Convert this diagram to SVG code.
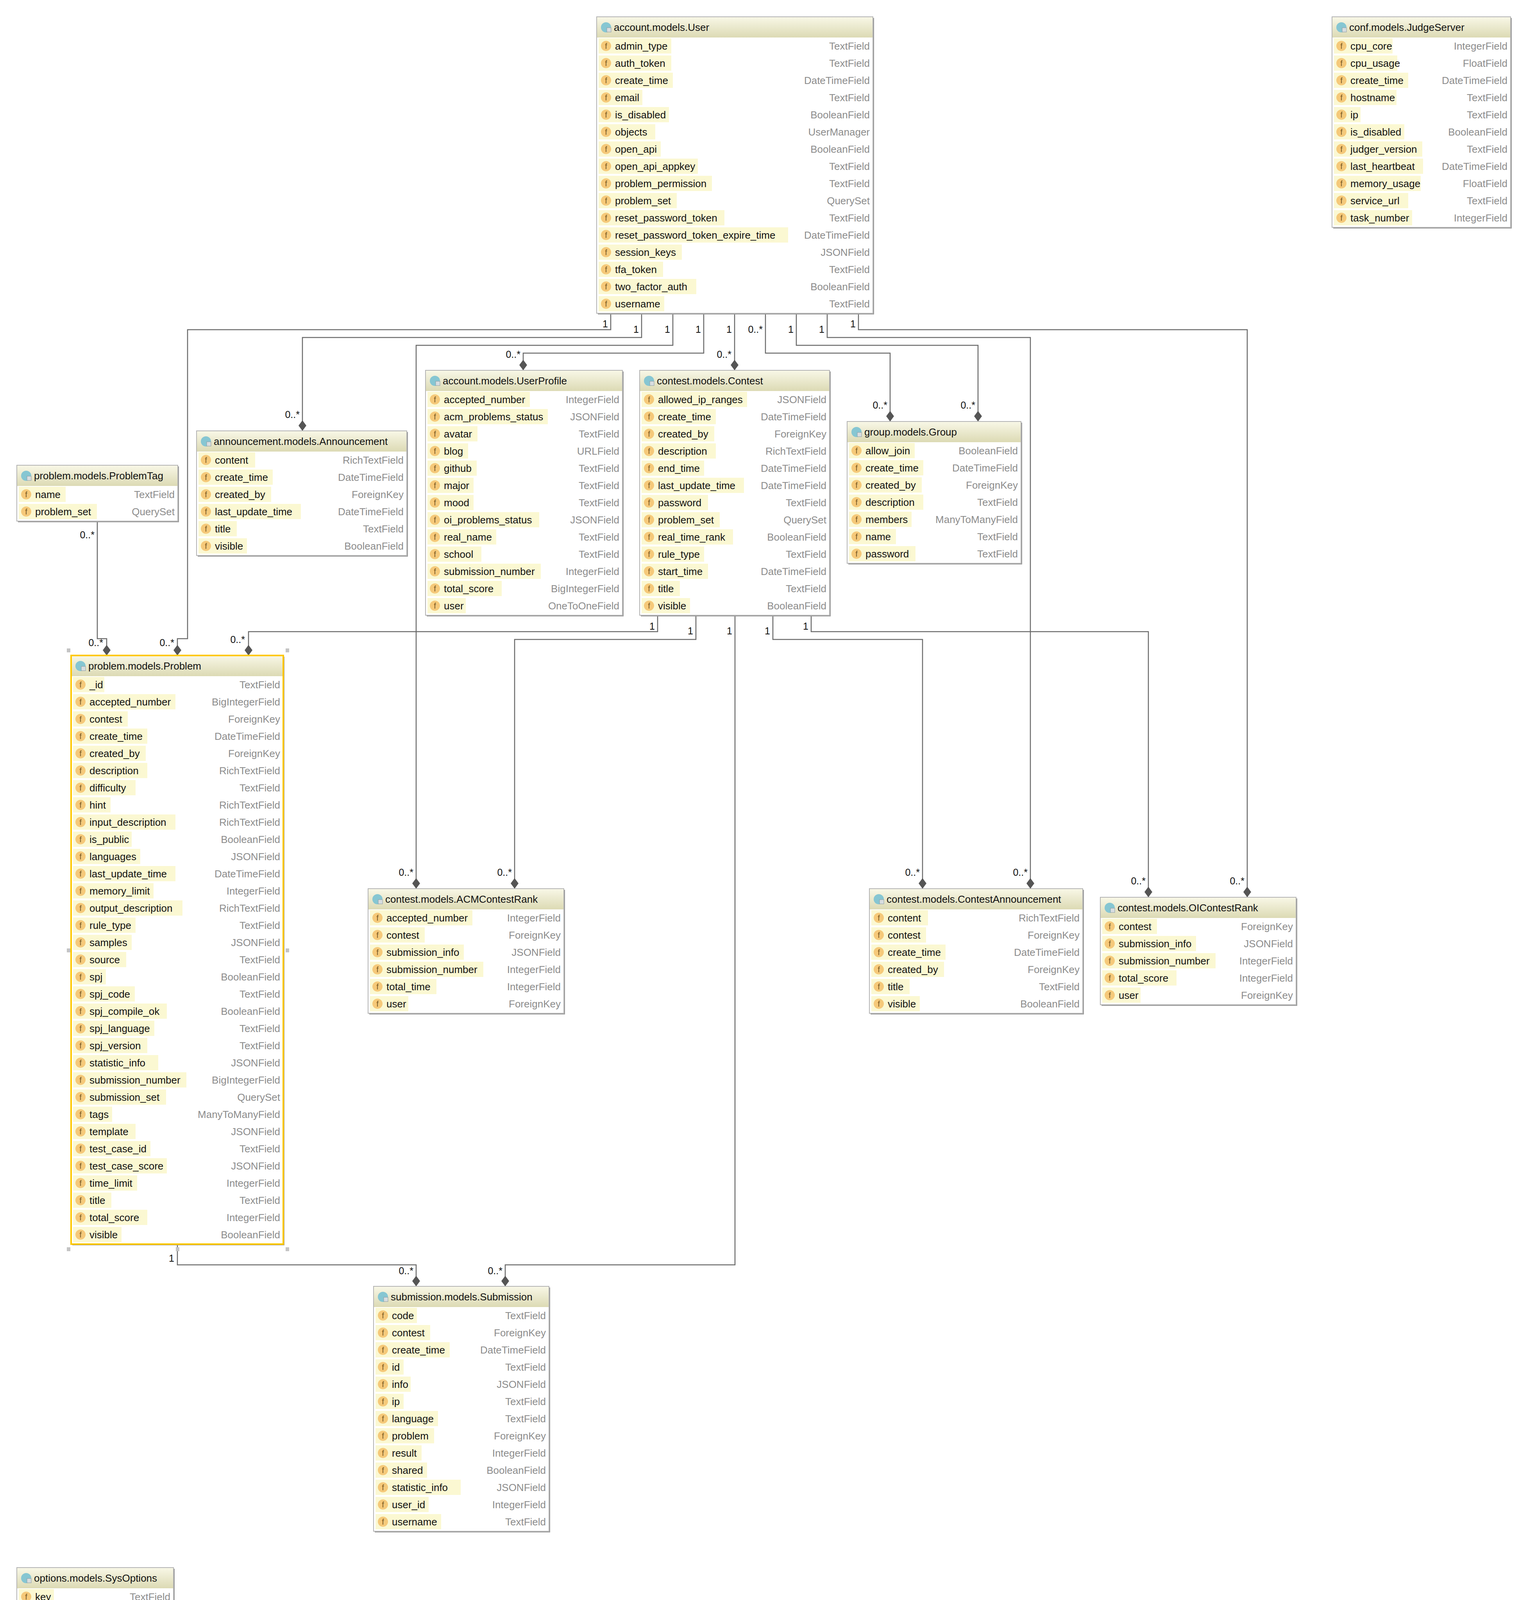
<svg xmlns="http://www.w3.org/2000/svg" xmlns:xlink="http://www.w3.org/1999/xlink" width="3908" height="4198" viewBox="0 0 3908 4198">
<style>
text{font-family:"Liberation Sans",Arial,sans-serif}
.sh{fill:#9a9a9a}
.bx{fill:#fff;stroke:#b4b4b4;stroke-width:2}
.hd{fill:url(#hg)}
.cn{font-size:26px;fill:#111}
.hl{fill:#fbf8d2}
.fn{font-size:26px;fill:#111}
.ft{font-size:26px;fill:#8c8c8c;text-anchor:end}
.fl{font-size:20px;fill:#7a5a20;text-anchor:middle}
.ln{fill:none;stroke:#6a6a6a;stroke-width:2.5;marker-end:url(#dm)}
.lb{font-size:25px;fill:#111;text-anchor:end}
.hdl{fill:#c4c4c4}
</style>
<defs>
<linearGradient id="hg" x1="0" y1="0" x2="0" y2="1"><stop offset="0" stop-color="#f8f7e6"/><stop offset="1" stop-color="#dcdab4"/></linearGradient>
<marker id="dm" viewBox="-28 -11 29 22" refX="0" refY="0" markerWidth="29" markerHeight="22" markerUnits="userSpaceOnUse" orient="auto"><path d="M0,0 L-13.5,-10 L-27,0 L-13.5,10 Z" fill="#555"/></marker>
<g id="ci"><circle cx="0" cy="0" r="13" fill="#86c6d2"/><rect x="2" y="1" width="11" height="11" fill="#d8dde0" stroke="#8a9aa0" stroke-width="1"/></g>
<g id="fi"><circle cx="24" cy="0" r="13" fill="#f5c97a"/><text class="fl" x="24" y="7">f</text></g>
</defs>
<rect width="3908" height="4198" fill="#fff"/>

<g id="connectors">
<polyline class="ln" points="1563,802 1563,844 480,844 480,1635 454,1635 454,1678"/>
<polyline class="ln" points="1642,802 1642,864 774,864 774,1103"/>
<polyline class="ln" points="1722,802 1722,884 1065,884 1065,2275"/>
<polyline class="ln" points="1801,802 1801,904 1339,904 1339,948"/>
<polyline class="ln" points="1880,802 1880,948"/>
<polyline class="ln" points="1959,802 1959,904 2278,904 2278,1079"/>
<polyline class="ln" points="2038,802 2038,884 2503,884 2503,1079"/>
<polyline class="ln" points="2117,802 2117,864 2637,864 2637,2275"/>
<polyline class="ln" points="2197,802 2197,844 3192,844 3192,2297"/>
<polyline class="ln" points="1683,1575 1683,1617 636,1617 636,1678"/>
<polyline class="ln" points="1781,1575 1781,1637 1317,1637 1317,2275"/>
<polyline class="ln" points="1881,1575 1881,3238 1293,3238 1293,3293"/>
<polyline class="ln" points="1978,1575 1978,1637 2361,1637 2361,2275"/>
<polyline class="ln" points="2076,1575 2076,1617 2939,1617 2939,2297"/>
<polyline class="ln" points="454,3187 454,3238 1065,3238 1065,3293"/>
<polyline class="ln" points="249,1334 249,1635 273,1635 273,1678"/>
<text class="lb" x="1556" y="838">1</text>
<text class="lb" x="1635" y="852">1</text>
<text class="lb" x="1715" y="852">1</text>
<text class="lb" x="1794" y="852">1</text>
<text class="lb" x="1873" y="852">1</text>
<text class="lb" x="1952" y="852">0..*</text>
<text class="lb" x="2031" y="852">1</text>
<text class="lb" x="2110" y="852">1</text>
<text class="lb" x="2190" y="838">1</text>
<text class="lb" x="1676" y="1612">1</text>
<text class="lb" x="1774" y="1624">1</text>
<text class="lb" x="1874" y="1624">1</text>
<text class="lb" x="1971" y="1624">1</text>
<text class="lb" x="2069" y="1612">1</text>
<text class="lb" x="446" y="3230">1</text>
<text class="lb" x="242" y="1378">0..*</text>
<text class="lb" x="264" y="1654">0..*</text>
<text class="lb" x="446" y="1654">0..*</text>
<text class="lb" x="627" y="1646">0..*</text>
<text class="lb" x="767" y="1070">0..*</text>
<text class="lb" x="1332" y="916">0..*</text>
<text class="lb" x="1872" y="916">0..*</text>
<text class="lb" x="2271" y="1046">0..*</text>
<text class="lb" x="2496" y="1046">0..*</text>
<text class="lb" x="1058" y="2242">0..*</text>
<text class="lb" x="1310" y="2242">0..*</text>
<text class="lb" x="2354" y="2242">0..*</text>
<text class="lb" x="2630" y="2242">0..*</text>
<text class="lb" x="2932" y="2264">0..*</text>
<text class="lb" x="3185" y="2264">0..*</text>
<text class="lb" x="1058" y="3262">0..*</text>
<text class="lb" x="1286" y="3262">0..*</text>
</g>

<g id="user" transform="translate(1527,43)">
<rect class="sh" x="3" y="3" width="707" height="759"/><rect class="bx" width="707" height="759"/><rect class="hd" x="1" y="1" width="705" height="52"/>
<use href="#ci" x="24" y="27"/><text class="cn" x="44" y="36">account.models.User</text>
<g transform="translate(0,55)"><rect class="hl" x="5" width="186" height="39"/><use href="#fi" y="19.5"/><text class="fn" x="47" y="29">admin_type</text><text class="ft" x="699" y="29">TextField</text></g>
<g transform="translate(0,99)"><rect class="hl" x="5" width="186" height="39"/><use href="#fi" y="19.5"/><text class="fn" x="47" y="29">auth_token</text><text class="ft" x="699" y="29">TextField</text></g>
<g transform="translate(0,143)"><rect class="hl" x="5" width="190" height="39"/><use href="#fi" y="19.5"/><text class="fn" x="47" y="29">create_time</text><text class="ft" x="699" y="29">DateTimeField</text></g>
<g transform="translate(0,187)"><rect class="hl" x="5" width="112" height="39"/><use href="#fi" y="19.5"/><text class="fn" x="47" y="29">email</text><text class="ft" x="699" y="29">TextField</text></g>
<g transform="translate(0,231)"><rect class="hl" x="5" width="180" height="39"/><use href="#fi" y="19.5"/><text class="fn" x="47" y="29">is_disabled</text><text class="ft" x="699" y="29">BooleanField</text></g>
<g transform="translate(0,275)"><rect class="hl" x="5" width="145" height="39"/><use href="#fi" y="19.5"/><text class="fn" x="47" y="29">objects</text><text class="ft" x="699" y="29">UserManager</text></g>
<g transform="translate(0,319)"><rect class="hl" x="5" width="159" height="39"/><use href="#fi" y="19.5"/><text class="fn" x="47" y="29">open_api</text><text class="ft" x="699" y="29">BooleanField</text></g>
<g transform="translate(0,363)"><rect class="hl" x="5" width="254" height="39"/><use href="#fi" y="19.5"/><text class="fn" x="47" y="29">open_api_appkey</text><text class="ft" x="699" y="29">TextField</text></g>
<g transform="translate(0,407)"><rect class="hl" x="5" width="290" height="39"/><use href="#fi" y="19.5"/><text class="fn" x="47" y="29">problem_permission</text><text class="ft" x="699" y="29">TextField</text></g>
<g transform="translate(0,451)"><rect class="hl" x="5" width="200" height="39"/><use href="#fi" y="19.5"/><text class="fn" x="47" y="29">problem_set</text><text class="ft" x="699" y="29">QuerySet</text></g>
<g transform="translate(0,495)"><rect class="hl" x="5" width="322" height="39"/><use href="#fi" y="19.5"/><text class="fn" x="47" y="29">reset_password_token</text><text class="ft" x="699" y="29">TextField</text></g>
<g transform="translate(0,539)"><rect class="hl" x="5" width="485" height="39"/><use href="#fi" y="19.5"/><text class="fn" x="47" y="29">reset_password_token_expire_time</text><text class="ft" x="699" y="29">DateTimeField</text></g>
<g transform="translate(0,583)"><rect class="hl" x="5" width="213" height="39"/><use href="#fi" y="19.5"/><text class="fn" x="47" y="29">session_keys</text><text class="ft" x="699" y="29">JSONField</text></g>
<g transform="translate(0,627)"><rect class="hl" x="5" width="165" height="39"/><use href="#fi" y="19.5"/><text class="fn" x="47" y="29">tfa_token</text><text class="ft" x="699" y="29">TextField</text></g>
<g transform="translate(0,671)"><rect class="hl" x="5" width="250" height="39"/><use href="#fi" y="19.5"/><text class="fn" x="47" y="29">two_factor_auth</text><text class="ft" x="699" y="29">BooleanField</text></g>
<g transform="translate(0,715)"><rect class="hl" x="5" width="168" height="39"/><use href="#fi" y="19.5"/><text class="fn" x="47" y="29">username</text><text class="ft" x="699" y="29">TextField</text></g>
</g>

<g id="judgeserver" transform="translate(3409,43)">
<rect class="sh" x="3" y="3" width="457" height="539"/><rect class="bx" width="457" height="539"/><rect class="hd" x="1" y="1" width="455" height="52"/>
<use href="#ci" x="24" y="27"/><text class="cn" x="44" y="36">conf.models.JudgeServer</text>
<g transform="translate(0,55)"><rect class="hl" x="5" width="150" height="39"/><use href="#fi" y="19.5"/><text class="fn" x="47" y="29">cpu_core</text><text class="ft" x="449" y="29">IntegerField</text></g>
<g transform="translate(0,99)"><rect class="hl" x="5" width="162" height="39"/><use href="#fi" y="19.5"/><text class="fn" x="47" y="29">cpu_usage</text><text class="ft" x="449" y="29">FloatField</text></g>
<g transform="translate(0,143)"><rect class="hl" x="5" width="190" height="39"/><use href="#fi" y="19.5"/><text class="fn" x="47" y="29">create_time</text><text class="ft" x="449" y="29">DateTimeField</text></g>
<g transform="translate(0,187)"><rect class="hl" x="5" width="160" height="39"/><use href="#fi" y="19.5"/><text class="fn" x="47" y="29">hostname</text><text class="ft" x="449" y="29">TextField</text></g>
<g transform="translate(0,231)"><rect class="hl" x="5" width="68" height="39"/><use href="#fi" y="19.5"/><text class="fn" x="47" y="29">ip</text><text class="ft" x="449" y="29">TextField</text></g>
<g transform="translate(0,275)"><rect class="hl" x="5" width="180" height="39"/><use href="#fi" y="19.5"/><text class="fn" x="47" y="29">is_disabled</text><text class="ft" x="449" y="29">BooleanField</text></g>
<g transform="translate(0,319)"><rect class="hl" x="5" width="226" height="39"/><use href="#fi" y="19.5"/><text class="fn" x="47" y="29">judger_version</text><text class="ft" x="449" y="29">TextField</text></g>
<g transform="translate(0,363)"><rect class="hl" x="5" width="228" height="39"/><use href="#fi" y="19.5"/><text class="fn" x="47" y="29">last_heartbeat</text><text class="ft" x="449" y="29">DateTimeField</text></g>
<g transform="translate(0,407)"><rect class="hl" x="5" width="222" height="39"/><use href="#fi" y="19.5"/><text class="fn" x="47" y="29">memory_usage</text><text class="ft" x="449" y="29">FloatField</text></g>
<g transform="translate(0,451)"><rect class="hl" x="5" width="190" height="39"/><use href="#fi" y="19.5"/><text class="fn" x="47" y="29">service_url</text><text class="ft" x="449" y="29">TextField</text></g>
<g transform="translate(0,495)"><rect class="hl" x="5" width="200" height="39"/><use href="#fi" y="19.5"/><text class="fn" x="47" y="29">task_number</text><text class="ft" x="449" y="29">IntegerField</text></g>
</g>

<g id="userprofile" transform="translate(1089,948)">
<rect class="sh" x="3" y="3" width="504" height="627"/><rect class="bx" width="504" height="627"/><rect class="hd" x="1" y="1" width="502" height="52"/>
<use href="#ci" x="24" y="27"/><text class="cn" x="44" y="36">account.models.UserProfile</text>
<g transform="translate(0,55)"><rect class="hl" x="5" width="262" height="39"/><use href="#fi" y="19.5"/><text class="fn" x="47" y="29">accepted_number</text><text class="ft" x="496" y="29">IntegerField</text></g>
<g transform="translate(0,99)"><rect class="hl" x="5" width="308" height="39"/><use href="#fi" y="19.5"/><text class="fn" x="47" y="29">acm_problems_status</text><text class="ft" x="496" y="29">JSONField</text></g>
<g transform="translate(0,143)"><rect class="hl" x="5" width="128" height="39"/><use href="#fi" y="19.5"/><text class="fn" x="47" y="29">avatar</text><text class="ft" x="496" y="29">TextField</text></g>
<g transform="translate(0,187)"><rect class="hl" x="5" width="104" height="39"/><use href="#fi" y="19.5"/><text class="fn" x="47" y="29">blog</text><text class="ft" x="496" y="29">URLField</text></g>
<g transform="translate(0,231)"><rect class="hl" x="5" width="126" height="39"/><use href="#fi" y="19.5"/><text class="fn" x="47" y="29">github</text><text class="ft" x="496" y="29">TextField</text></g>
<g transform="translate(0,275)"><rect class="hl" x="5" width="118" height="39"/><use href="#fi" y="19.5"/><text class="fn" x="47" y="29">major</text><text class="ft" x="496" y="29">TextField</text></g>
<g transform="translate(0,319)"><rect class="hl" x="5" width="118" height="39"/><use href="#fi" y="19.5"/><text class="fn" x="47" y="29">mood</text><text class="ft" x="496" y="29">TextField</text></g>
<g transform="translate(0,363)"><rect class="hl" x="5" width="286" height="39"/><use href="#fi" y="19.5"/><text class="fn" x="47" y="29">oi_problems_status</text><text class="ft" x="496" y="29">JSONField</text></g>
<g transform="translate(0,407)"><rect class="hl" x="5" width="176" height="39"/><use href="#fi" y="19.5"/><text class="fn" x="47" y="29">real_name</text><text class="ft" x="496" y="29">TextField</text></g>
<g transform="translate(0,451)"><rect class="hl" x="5" width="138" height="39"/><use href="#fi" y="19.5"/><text class="fn" x="47" y="29">school</text><text class="ft" x="496" y="29">TextField</text></g>
<g transform="translate(0,495)"><rect class="hl" x="5" width="290" height="39"/><use href="#fi" y="19.5"/><text class="fn" x="47" y="29">submission_number</text><text class="ft" x="496" y="29">IntegerField</text></g>
<g transform="translate(0,539)"><rect class="hl" x="5" width="190" height="39"/><use href="#fi" y="19.5"/><text class="fn" x="47" y="29">total_score</text><text class="ft" x="496" y="29">BigIntegerField</text></g>
<g transform="translate(0,583)"><rect class="hl" x="5" width="98" height="39"/><use href="#fi" y="19.5"/><text class="fn" x="47" y="29">user</text><text class="ft" x="496" y="29">OneToOneField</text></g>
</g>

<g id="contest" transform="translate(1637,948)">
<rect class="sh" x="3" y="3" width="486" height="627"/><rect class="bx" width="486" height="627"/><rect class="hd" x="1" y="1" width="484" height="52"/>
<use href="#ci" x="24" y="27"/><text class="cn" x="44" y="36">contest.models.Contest</text>
<g transform="translate(0,55)"><rect class="hl" x="5" width="270" height="39"/><use href="#fi" y="19.5"/><text class="fn" x="47" y="29">allowed_ip_ranges</text><text class="ft" x="478" y="29">JSONField</text></g>
<g transform="translate(0,99)"><rect class="hl" x="5" width="190" height="39"/><use href="#fi" y="19.5"/><text class="fn" x="47" y="29">create_time</text><text class="ft" x="478" y="29">DateTimeField</text></g>
<g transform="translate(0,143)"><rect class="hl" x="5" width="186" height="39"/><use href="#fi" y="19.5"/><text class="fn" x="47" y="29">created_by</text><text class="ft" x="478" y="29">ForeignKey</text></g>
<g transform="translate(0,187)"><rect class="hl" x="5" width="190" height="39"/><use href="#fi" y="19.5"/><text class="fn" x="47" y="29">description</text><text class="ft" x="478" y="29">RichTextField</text></g>
<g transform="translate(0,231)"><rect class="hl" x="5" width="160" height="39"/><use href="#fi" y="19.5"/><text class="fn" x="47" y="29">end_time</text><text class="ft" x="478" y="29">DateTimeField</text></g>
<g transform="translate(0,275)"><rect class="hl" x="5" width="262" height="39"/><use href="#fi" y="19.5"/><text class="fn" x="47" y="29">last_update_time</text><text class="ft" x="478" y="29">DateTimeField</text></g>
<g transform="translate(0,319)"><rect class="hl" x="5" width="170" height="39"/><use href="#fi" y="19.5"/><text class="fn" x="47" y="29">password</text><text class="ft" x="478" y="29">TextField</text></g>
<g transform="translate(0,363)"><rect class="hl" x="5" width="200" height="39"/><use href="#fi" y="19.5"/><text class="fn" x="47" y="29">problem_set</text><text class="ft" x="478" y="29">QuerySet</text></g>
<g transform="translate(0,407)"><rect class="hl" x="5" width="234" height="39"/><use href="#fi" y="19.5"/><text class="fn" x="47" y="29">real_time_rank</text><text class="ft" x="478" y="29">BooleanField</text></g>
<g transform="translate(0,451)"><rect class="hl" x="5" width="160" height="39"/><use href="#fi" y="19.5"/><text class="fn" x="47" y="29">rule_type</text><text class="ft" x="478" y="29">TextField</text></g>
<g transform="translate(0,495)"><rect class="hl" x="5" width="170" height="39"/><use href="#fi" y="19.5"/><text class="fn" x="47" y="29">start_time</text><text class="ft" x="478" y="29">DateTimeField</text></g>
<g transform="translate(0,539)"><rect class="hl" x="5" width="98" height="39"/><use href="#fi" y="19.5"/><text class="fn" x="47" y="29">title</text><text class="ft" x="478" y="29">TextField</text></g>
<g transform="translate(0,583)"><rect class="hl" x="5" width="124" height="39"/><use href="#fi" y="19.5"/><text class="fn" x="47" y="29">visible</text><text class="ft" x="478" y="29">BooleanField</text></g>
</g>

<g id="group" transform="translate(2168,1079)">
<rect class="sh" x="3" y="3" width="445" height="363"/><rect class="bx" width="445" height="363"/><rect class="hd" x="1" y="1" width="443" height="52"/>
<use href="#ci" x="24" y="27"/><text class="cn" x="44" y="36">group.models.Group</text>
<g transform="translate(0,55)"><rect class="hl" x="5" width="168" height="39"/><use href="#fi" y="19.5"/><text class="fn" x="47" y="29">allow_join</text><text class="ft" x="437" y="29">BooleanField</text></g>
<g transform="translate(0,99)"><rect class="hl" x="5" width="190" height="39"/><use href="#fi" y="19.5"/><text class="fn" x="47" y="29">create_time</text><text class="ft" x="437" y="29">DateTimeField</text></g>
<g transform="translate(0,143)"><rect class="hl" x="5" width="186" height="39"/><use href="#fi" y="19.5"/><text class="fn" x="47" y="29">created_by</text><text class="ft" x="437" y="29">ForeignKey</text></g>
<g transform="translate(0,187)"><rect class="hl" x="5" width="190" height="39"/><use href="#fi" y="19.5"/><text class="fn" x="47" y="29">description</text><text class="ft" x="437" y="29">TextField</text></g>
<g transform="translate(0,231)"><rect class="hl" x="5" width="160" height="39"/><use href="#fi" y="19.5"/><text class="fn" x="47" y="29">members</text><text class="ft" x="437" y="29">ManyToManyField</text></g>
<g transform="translate(0,275)"><rect class="hl" x="5" width="120" height="39"/><use href="#fi" y="19.5"/><text class="fn" x="47" y="29">name</text><text class="ft" x="437" y="29">TextField</text></g>
<g transform="translate(0,319)"><rect class="hl" x="5" width="170" height="39"/><use href="#fi" y="19.5"/><text class="fn" x="47" y="29">password</text><text class="ft" x="437" y="29">TextField</text></g>
</g>

<g id="announcement" transform="translate(503,1103)">
<rect class="sh" x="3" y="3" width="538" height="319"/><rect class="bx" width="538" height="319"/><rect class="hd" x="1" y="1" width="536" height="52"/>
<use href="#ci" x="24" y="27"/><text class="cn" x="44" y="36">announcement.models.Announcement</text>
<g transform="translate(0,55)"><rect class="hl" x="5" width="145" height="39"/><use href="#fi" y="19.5"/><text class="fn" x="47" y="29">content</text><text class="ft" x="530" y="29">RichTextField</text></g>
<g transform="translate(0,99)"><rect class="hl" x="5" width="190" height="39"/><use href="#fi" y="19.5"/><text class="fn" x="47" y="29">create_time</text><text class="ft" x="530" y="29">DateTimeField</text></g>
<g transform="translate(0,143)"><rect class="hl" x="5" width="186" height="39"/><use href="#fi" y="19.5"/><text class="fn" x="47" y="29">created_by</text><text class="ft" x="530" y="29">ForeignKey</text></g>
<g transform="translate(0,187)"><rect class="hl" x="5" width="262" height="39"/><use href="#fi" y="19.5"/><text class="fn" x="47" y="29">last_update_time</text><text class="ft" x="530" y="29">DateTimeField</text></g>
<g transform="translate(0,231)"><rect class="hl" x="5" width="98" height="39"/><use href="#fi" y="19.5"/><text class="fn" x="47" y="29">title</text><text class="ft" x="530" y="29">TextField</text></g>
<g transform="translate(0,275)"><rect class="hl" x="5" width="124" height="39"/><use href="#fi" y="19.5"/><text class="fn" x="47" y="29">visible</text><text class="ft" x="530" y="29">BooleanField</text></g>
</g>

<g id="problemtag" transform="translate(43,1191)">
<rect class="sh" x="3" y="3" width="412" height="143"/><rect class="bx" width="412" height="143"/><rect class="hd" x="1" y="1" width="410" height="52"/>
<use href="#ci" x="24" y="27"/><text class="cn" x="44" y="36">problem.models.ProblemTag</text>
<g transform="translate(0,55)"><rect class="hl" x="5" width="120" height="39"/><use href="#fi" y="19.5"/><text class="fn" x="47" y="29">name</text><text class="ft" x="404" y="29">TextField</text></g>
<g transform="translate(0,99)"><rect class="hl" x="5" width="200" height="39"/><use href="#fi" y="19.5"/><text class="fn" x="47" y="29">problem_set</text><text class="ft" x="404" y="29">QuerySet</text></g>
</g>

<g id="problem" transform="translate(182,1678)">
<rect class="sh" x="3" y="3" width="543" height="1507"/><rect class="bx" width="543" height="1507"/><rect class="hd" x="1" y="1" width="541" height="52"/>
<use href="#ci" x="24" y="27"/><text class="cn" x="44" y="36">problem.models.Problem</text>
<g transform="translate(0,55)"><rect class="hl" x="5" width="80" height="39"/><use href="#fi" y="19.5"/><text class="fn" x="47" y="29">_id</text><text class="ft" x="535" y="29">TextField</text></g>
<g transform="translate(0,99)"><rect class="hl" x="5" width="262" height="39"/><use href="#fi" y="19.5"/><text class="fn" x="47" y="29">accepted_number</text><text class="ft" x="535" y="29">BigIntegerField</text></g>
<g transform="translate(0,143)"><rect class="hl" x="5" width="140" height="39"/><use href="#fi" y="19.5"/><text class="fn" x="47" y="29">contest</text><text class="ft" x="535" y="29">ForeignKey</text></g>
<g transform="translate(0,187)"><rect class="hl" x="5" width="190" height="39"/><use href="#fi" y="19.5"/><text class="fn" x="47" y="29">create_time</text><text class="ft" x="535" y="29">DateTimeField</text></g>
<g transform="translate(0,231)"><rect class="hl" x="5" width="186" height="39"/><use href="#fi" y="19.5"/><text class="fn" x="47" y="29">created_by</text><text class="ft" x="535" y="29">ForeignKey</text></g>
<g transform="translate(0,275)"><rect class="hl" x="5" width="190" height="39"/><use href="#fi" y="19.5"/><text class="fn" x="47" y="29">description</text><text class="ft" x="535" y="29">RichTextField</text></g>
<g transform="translate(0,319)"><rect class="hl" x="5" width="160" height="39"/><use href="#fi" y="19.5"/><text class="fn" x="47" y="29">difficulty</text><text class="ft" x="535" y="29">TextField</text></g>
<g transform="translate(0,363)"><rect class="hl" x="5" width="96" height="39"/><use href="#fi" y="19.5"/><text class="fn" x="47" y="29">hint</text><text class="ft" x="535" y="29">RichTextField</text></g>
<g transform="translate(0,407)"><rect class="hl" x="5" width="262" height="39"/><use href="#fi" y="19.5"/><text class="fn" x="47" y="29">input_description</text><text class="ft" x="535" y="29">RichTextField</text></g>
<g transform="translate(0,451)"><rect class="hl" x="5" width="150" height="39"/><use href="#fi" y="19.5"/><text class="fn" x="47" y="29">is_public</text><text class="ft" x="535" y="29">BooleanField</text></g>
<g transform="translate(0,495)"><rect class="hl" x="5" width="172" height="39"/><use href="#fi" y="19.5"/><text class="fn" x="47" y="29">languages</text><text class="ft" x="535" y="29">JSONField</text></g>
<g transform="translate(0,539)"><rect class="hl" x="5" width="262" height="39"/><use href="#fi" y="19.5"/><text class="fn" x="47" y="29">last_update_time</text><text class="ft" x="535" y="29">DateTimeField</text></g>
<g transform="translate(0,583)"><rect class="hl" x="5" width="206" height="39"/><use href="#fi" y="19.5"/><text class="fn" x="47" y="29">memory_limit</text><text class="ft" x="535" y="29">IntegerField</text></g>
<g transform="translate(0,627)"><rect class="hl" x="5" width="280" height="39"/><use href="#fi" y="19.5"/><text class="fn" x="47" y="29">output_description</text><text class="ft" x="535" y="29">RichTextField</text></g>
<g transform="translate(0,671)"><rect class="hl" x="5" width="160" height="39"/><use href="#fi" y="19.5"/><text class="fn" x="47" y="29">rule_type</text><text class="ft" x="535" y="29">TextField</text></g>
<g transform="translate(0,715)"><rect class="hl" x="5" width="150" height="39"/><use href="#fi" y="19.5"/><text class="fn" x="47" y="29">samples</text><text class="ft" x="535" y="29">JSONField</text></g>
<g transform="translate(0,759)"><rect class="hl" x="5" width="136" height="39"/><use href="#fi" y="19.5"/><text class="fn" x="47" y="29">source</text><text class="ft" x="535" y="29">TextField</text></g>
<g transform="translate(0,803)"><rect class="hl" x="5" width="84" height="39"/><use href="#fi" y="19.5"/><text class="fn" x="47" y="29">spj</text><text class="ft" x="535" y="29">BooleanField</text></g>
<g transform="translate(0,847)"><rect class="hl" x="5" width="158" height="39"/><use href="#fi" y="19.5"/><text class="fn" x="47" y="29">spj_code</text><text class="ft" x="535" y="29">TextField</text></g>
<g transform="translate(0,891)"><rect class="hl" x="5" width="240" height="39"/><use href="#fi" y="19.5"/><text class="fn" x="47" y="29">spj_compile_ok</text><text class="ft" x="535" y="29">BooleanField</text></g>
<g transform="translate(0,935)"><rect class="hl" x="5" width="208" height="39"/><use href="#fi" y="19.5"/><text class="fn" x="47" y="29">spj_language</text><text class="ft" x="535" y="29">TextField</text></g>
<g transform="translate(0,979)"><rect class="hl" x="5" width="190" height="39"/><use href="#fi" y="19.5"/><text class="fn" x="47" y="29">spj_version</text><text class="ft" x="535" y="29">TextField</text></g>
<g transform="translate(0,1023)"><rect class="hl" x="5" width="218" height="39"/><use href="#fi" y="19.5"/><text class="fn" x="47" y="29">statistic_info</text><text class="ft" x="535" y="29">JSONField</text></g>
<g transform="translate(0,1067)"><rect class="hl" x="5" width="290" height="39"/><use href="#fi" y="19.5"/><text class="fn" x="47" y="29">submission_number</text><text class="ft" x="535" y="29">BigIntegerField</text></g>
<g transform="translate(0,1111)"><rect class="hl" x="5" width="238" height="39"/><use href="#fi" y="19.5"/><text class="fn" x="47" y="29">submission_set</text><text class="ft" x="535" y="29">QuerySet</text></g>
<g transform="translate(0,1155)"><rect class="hl" x="5" width="100" height="39"/><use href="#fi" y="19.5"/><text class="fn" x="47" y="29">tags</text><text class="ft" x="535" y="29">ManyToManyField</text></g>
<g transform="translate(0,1199)"><rect class="hl" x="5" width="160" height="39"/><use href="#fi" y="19.5"/><text class="fn" x="47" y="29">template</text><text class="ft" x="535" y="29">JSONField</text></g>
<g transform="translate(0,1243)"><rect class="hl" x="5" width="198" height="39"/><use href="#fi" y="19.5"/><text class="fn" x="47" y="29">test_case_id</text><text class="ft" x="535" y="29">TextField</text></g>
<g transform="translate(0,1287)"><rect class="hl" x="5" width="240" height="39"/><use href="#fi" y="19.5"/><text class="fn" x="47" y="29">test_case_score</text><text class="ft" x="535" y="29">JSONField</text></g>
<g transform="translate(0,1331)"><rect class="hl" x="5" width="164" height="39"/><use href="#fi" y="19.5"/><text class="fn" x="47" y="29">time_limit</text><text class="ft" x="535" y="29">IntegerField</text></g>
<g transform="translate(0,1375)"><rect class="hl" x="5" width="98" height="39"/><use href="#fi" y="19.5"/><text class="fn" x="47" y="29">title</text><text class="ft" x="535" y="29">TextField</text></g>
<g transform="translate(0,1419)"><rect class="hl" x="5" width="190" height="39"/><use href="#fi" y="19.5"/><text class="fn" x="47" y="29">total_score</text><text class="ft" x="535" y="29">IntegerField</text></g>
<g transform="translate(0,1463)"><rect class="hl" x="5" width="124" height="39"/><use href="#fi" y="19.5"/><text class="fn" x="47" y="29">visible</text><text class="ft" x="535" y="29">BooleanField</text></g>
<rect x="0" y="0" width="543" height="1507" fill="none" stroke="#ffc800" stroke-width="4"/>
<rect class="hdl" x="-11" y="-18" width="9" height="10"/><rect class="hdl" x="549" y="-18" width="9" height="10"/>
<rect class="hdl" x="-11" y="750" width="9" height="10"/><rect class="hdl" x="549" y="750" width="9" height="10"/>
<rect class="hdl" x="-11" y="1515" width="9" height="10"/><rect class="hdl" x="268" y="1515" width="9" height="10"/><rect class="hdl" x="549" y="1515" width="9" height="10"/>
</g>

<g id="acmcontestrank" transform="translate(942,2275)">
<rect class="sh" x="3" y="3" width="501" height="319"/><rect class="bx" width="501" height="319"/><rect class="hd" x="1" y="1" width="499" height="52"/>
<use href="#ci" x="24" y="27"/><text class="cn" x="44" y="36">contest.models.ACMContestRank</text>
<g transform="translate(0,55)"><rect class="hl" x="5" width="262" height="39"/><use href="#fi" y="19.5"/><text class="fn" x="47" y="29">accepted_number</text><text class="ft" x="493" y="29">IntegerField</text></g>
<g transform="translate(0,99)"><rect class="hl" x="5" width="140" height="39"/><use href="#fi" y="19.5"/><text class="fn" x="47" y="29">contest</text><text class="ft" x="493" y="29">ForeignKey</text></g>
<g transform="translate(0,143)"><rect class="hl" x="5" width="240" height="39"/><use href="#fi" y="19.5"/><text class="fn" x="47" y="29">submission_info</text><text class="ft" x="493" y="29">JSONField</text></g>
<g transform="translate(0,187)"><rect class="hl" x="5" width="290" height="39"/><use href="#fi" y="19.5"/><text class="fn" x="47" y="29">submission_number</text><text class="ft" x="493" y="29">IntegerField</text></g>
<g transform="translate(0,231)"><rect class="hl" x="5" width="170" height="39"/><use href="#fi" y="19.5"/><text class="fn" x="47" y="29">total_time</text><text class="ft" x="493" y="29">IntegerField</text></g>
<g transform="translate(0,275)"><rect class="hl" x="5" width="98" height="39"/><use href="#fi" y="19.5"/><text class="fn" x="47" y="29">user</text><text class="ft" x="493" y="29">ForeignKey</text></g>
</g>

<g id="contestannouncement" transform="translate(2225,2275)">
<rect class="sh" x="3" y="3" width="546" height="319"/><rect class="bx" width="546" height="319"/><rect class="hd" x="1" y="1" width="544" height="52"/>
<use href="#ci" x="24" y="27"/><text class="cn" x="44" y="36">contest.models.ContestAnnouncement</text>
<g transform="translate(0,55)"><rect class="hl" x="5" width="145" height="39"/><use href="#fi" y="19.5"/><text class="fn" x="47" y="29">content</text><text class="ft" x="538" y="29">RichTextField</text></g>
<g transform="translate(0,99)"><rect class="hl" x="5" width="140" height="39"/><use href="#fi" y="19.5"/><text class="fn" x="47" y="29">contest</text><text class="ft" x="538" y="29">ForeignKey</text></g>
<g transform="translate(0,143)"><rect class="hl" x="5" width="190" height="39"/><use href="#fi" y="19.5"/><text class="fn" x="47" y="29">create_time</text><text class="ft" x="538" y="29">DateTimeField</text></g>
<g transform="translate(0,187)"><rect class="hl" x="5" width="186" height="39"/><use href="#fi" y="19.5"/><text class="fn" x="47" y="29">created_by</text><text class="ft" x="538" y="29">ForeignKey</text></g>
<g transform="translate(0,231)"><rect class="hl" x="5" width="98" height="39"/><use href="#fi" y="19.5"/><text class="fn" x="47" y="29">title</text><text class="ft" x="538" y="29">TextField</text></g>
<g transform="translate(0,275)"><rect class="hl" x="5" width="124" height="39"/><use href="#fi" y="19.5"/><text class="fn" x="47" y="29">visible</text><text class="ft" x="538" y="29">BooleanField</text></g>
</g>

<g id="oicontestrank" transform="translate(2816,2297)">
<rect class="sh" x="3" y="3" width="501" height="275"/><rect class="bx" width="501" height="275"/><rect class="hd" x="1" y="1" width="499" height="52"/>
<use href="#ci" x="24" y="27"/><text class="cn" x="44" y="36">contest.models.OIContestRank</text>
<g transform="translate(0,55)"><rect class="hl" x="5" width="140" height="39"/><use href="#fi" y="19.5"/><text class="fn" x="47" y="29">contest</text><text class="ft" x="493" y="29">ForeignKey</text></g>
<g transform="translate(0,99)"><rect class="hl" x="5" width="240" height="39"/><use href="#fi" y="19.5"/><text class="fn" x="47" y="29">submission_info</text><text class="ft" x="493" y="29">JSONField</text></g>
<g transform="translate(0,143)"><rect class="hl" x="5" width="290" height="39"/><use href="#fi" y="19.5"/><text class="fn" x="47" y="29">submission_number</text><text class="ft" x="493" y="29">IntegerField</text></g>
<g transform="translate(0,187)"><rect class="hl" x="5" width="190" height="39"/><use href="#fi" y="19.5"/><text class="fn" x="47" y="29">total_score</text><text class="ft" x="493" y="29">IntegerField</text></g>
<g transform="translate(0,231)"><rect class="hl" x="5" width="98" height="39"/><use href="#fi" y="19.5"/><text class="fn" x="47" y="29">user</text><text class="ft" x="493" y="29">ForeignKey</text></g>
</g>

<g id="submission" transform="translate(956,3293)">
<rect class="sh" x="3" y="3" width="449" height="627"/><rect class="bx" width="449" height="627"/><rect class="hd" x="1" y="1" width="447" height="52"/>
<use href="#ci" x="24" y="27"/><text class="cn" x="44" y="36">submission.models.Submission</text>
<g transform="translate(0,55)"><rect class="hl" x="5" width="106" height="39"/><use href="#fi" y="19.5"/><text class="fn" x="47" y="29">code</text><text class="ft" x="441" y="29">TextField</text></g>
<g transform="translate(0,99)"><rect class="hl" x="5" width="140" height="39"/><use href="#fi" y="19.5"/><text class="fn" x="47" y="29">contest</text><text class="ft" x="441" y="29">ForeignKey</text></g>
<g transform="translate(0,143)"><rect class="hl" x="5" width="190" height="39"/><use href="#fi" y="19.5"/><text class="fn" x="47" y="29">create_time</text><text class="ft" x="441" y="29">DateTimeField</text></g>
<g transform="translate(0,187)"><rect class="hl" x="5" width="72" height="39"/><use href="#fi" y="19.5"/><text class="fn" x="47" y="29">id</text><text class="ft" x="441" y="29">TextField</text></g>
<g transform="translate(0,231)"><rect class="hl" x="5" width="90" height="39"/><use href="#fi" y="19.5"/><text class="fn" x="47" y="29">info</text><text class="ft" x="441" y="29">JSONField</text></g>
<g transform="translate(0,275)"><rect class="hl" x="5" width="72" height="39"/><use href="#fi" y="19.5"/><text class="fn" x="47" y="29">ip</text><text class="ft" x="441" y="29">TextField</text></g>
<g transform="translate(0,319)"><rect class="hl" x="5" width="160" height="39"/><use href="#fi" y="19.5"/><text class="fn" x="47" y="29">language</text><text class="ft" x="441" y="29">TextField</text></g>
<g transform="translate(0,363)"><rect class="hl" x="5" width="150" height="39"/><use href="#fi" y="19.5"/><text class="fn" x="47" y="29">problem</text><text class="ft" x="441" y="29">ForeignKey</text></g>
<g transform="translate(0,407)"><rect class="hl" x="5" width="118" height="39"/><use href="#fi" y="19.5"/><text class="fn" x="47" y="29">result</text><text class="ft" x="441" y="29">IntegerField</text></g>
<g transform="translate(0,451)"><rect class="hl" x="5" width="132" height="39"/><use href="#fi" y="19.5"/><text class="fn" x="47" y="29">shared</text><text class="ft" x="441" y="29">BooleanField</text></g>
<g transform="translate(0,495)"><rect class="hl" x="5" width="218" height="39"/><use href="#fi" y="19.5"/><text class="fn" x="47" y="29">statistic_info</text><text class="ft" x="441" y="29">JSONField</text></g>
<g transform="translate(0,539)"><rect class="hl" x="5" width="136" height="39"/><use href="#fi" y="19.5"/><text class="fn" x="47" y="29">user_id</text><text class="ft" x="441" y="29">IntegerField</text></g>
<g transform="translate(0,583)"><rect class="hl" x="5" width="168" height="39"/><use href="#fi" y="19.5"/><text class="fn" x="47" y="29">username</text><text class="ft" x="441" y="29">TextField</text></g>
</g>

<g id="sysoptions" transform="translate(43,4013)">
<rect class="sh" x="3" y="3" width="401" height="143"/><rect class="bx" width="401" height="143"/><rect class="hd" x="1" y="1" width="399" height="52"/>
<use href="#ci" x="24" y="27"/><text class="cn" x="44" y="36">options.models.SysOptions</text>
<g transform="translate(0,55)"><rect class="hl" x="5" width="90" height="39"/><use href="#fi" y="19.5"/><text class="fn" x="47" y="29">key</text><text class="ft" x="393" y="29">TextField</text></g>
<g transform="translate(0,99)"><rect class="hl" x="5" width="112" height="39"/><use href="#fi" y="19.5"/><text class="fn" x="47" y="29">value</text><text class="ft" x="393" y="29">JSONField</text></g>
</g>

<text x="22" y="4174" font-size="22" fill="#c4c4c4">Powered by yFiles</text>
</svg>
